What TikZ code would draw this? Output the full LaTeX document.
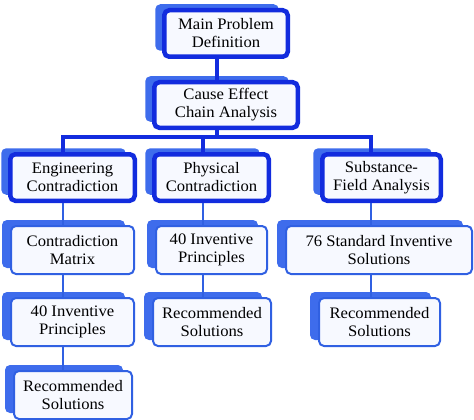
\documentclass[tikz,border=0pt]{standalone}
\usepackage{fontspec}
\setmainfont{Liberation Serif}[FakeStretch=1.04]
\usepackage{xcolor}
\usepackage{tikz}
\usetikzlibrary{shadows}
\definecolor{boxblue}{RGB}{18,44,222}
\definecolor{shadeblue}{RGB}{62,108,236}
\definecolor{lineblue}{RGB}{48,96,226}
\definecolor{boxfill}{RGB}{247,249,255}
\tikzset{edge/.style = {draw=boxblue, line width=3.5pt},
         thin edge/.style = {draw=lineblue, line width=2.5pt}}

\begin{document}
\begin{tikzpicture}[x=1pt,y=-1pt,
  every node/.style={font=\fontsize{16}{18}\selectfont, align=center, inner sep=0pt},
  box/.style={rectangle, rounded corners=5pt, fill=boxfill,
    general shadow={fill=shadeblue, shadow xshift=-9pt, shadow yshift=6pt}},
  main node/.style={box, draw=boxblue, line width=4.5pt, minimum height=46.5pt},
  sub node/.style={box, draw=lineblue, line width=2pt, minimum height=48pt}]
            \useasboundingbox (0,0) rectangle (474,420);

            \node[main node, minimum width=123.5pt] (1) at (226,33.5) {Main Problem\\Definition};
            \node[main node, minimum width=143.5pt, minimum height=45.5pt] (2) at (226,105) {Cause Effect\\Chain Analysis};
            \node[main node, minimum width=124.5pt] (3) at (72.5,177.5) {Engineering\\Contradiction};
            \node[main node, minimum width=114.5pt] (4) at (211.5,177.5) {Physical\\Contradiction};
            \node[main node, minimum width=118.5pt] (5) at (381.5,177.5) {Substance-\\Field Analysis};

            \node[sub node, minimum width=123pt] (6) at (72.5,250) {Contradiction\\Matrix};
            \node[sub node, minimum width=111pt] (7) at (211.5,250) {40 Inventive\\Principles};
            \node[sub node, minimum width=186pt] (8) at (379,250) {76 Standard Inventive\\Solutions};
            \node[sub node, minimum width=123pt] (9) at (72.5,322) {40 Inventive\\Principles};
            \node[sub node, minimum width=118pt] (10) at (212,322) {Recommended\\Solutions};
            \node[sub node, minimum width=121pt] (11) at (379.5,322) {Recommended\\Solutions};
            \node[sub node, minimum width=118pt] (12) at (73,395) {Recommended\\Solutions};

            % columns of the connectors
            \coordinate (t) at (217,0);
            \coordinate (c1) at (63,0);
            \coordinate (c2) at (203,0);
            \coordinate (c3) at (371,0);
            \coordinate (bus) at (0,137);

            \draw[edge] (1.south -| t) -- (2.north -| t);
            \draw[edge] (2.south -| t) -- (t |- bus);
            \draw[edge] (3.north -| c1) -- (c1 |- bus) -- (c3 |- bus) -- (5.north -| c3);
            \draw[edge] (c2 |- bus) -- (4.north -| c2);

            \path[thin edge]
                (3.south -| c1) edge (6.north -| c1)
                (6.south -| c1) edge (9.north -| c1)
                (9.south -| c1) edge (12.north -| c1)
                (4.south -| c2) edge (7.north -| c2)
                (7.south -| c2) edge (10.north -| c2)
                (5.south -| c3) edge (8.north -| c3)
                (8.south -| c3) edge (11.north -| c3)
                ;
        \end{tikzpicture}
\end{document}
